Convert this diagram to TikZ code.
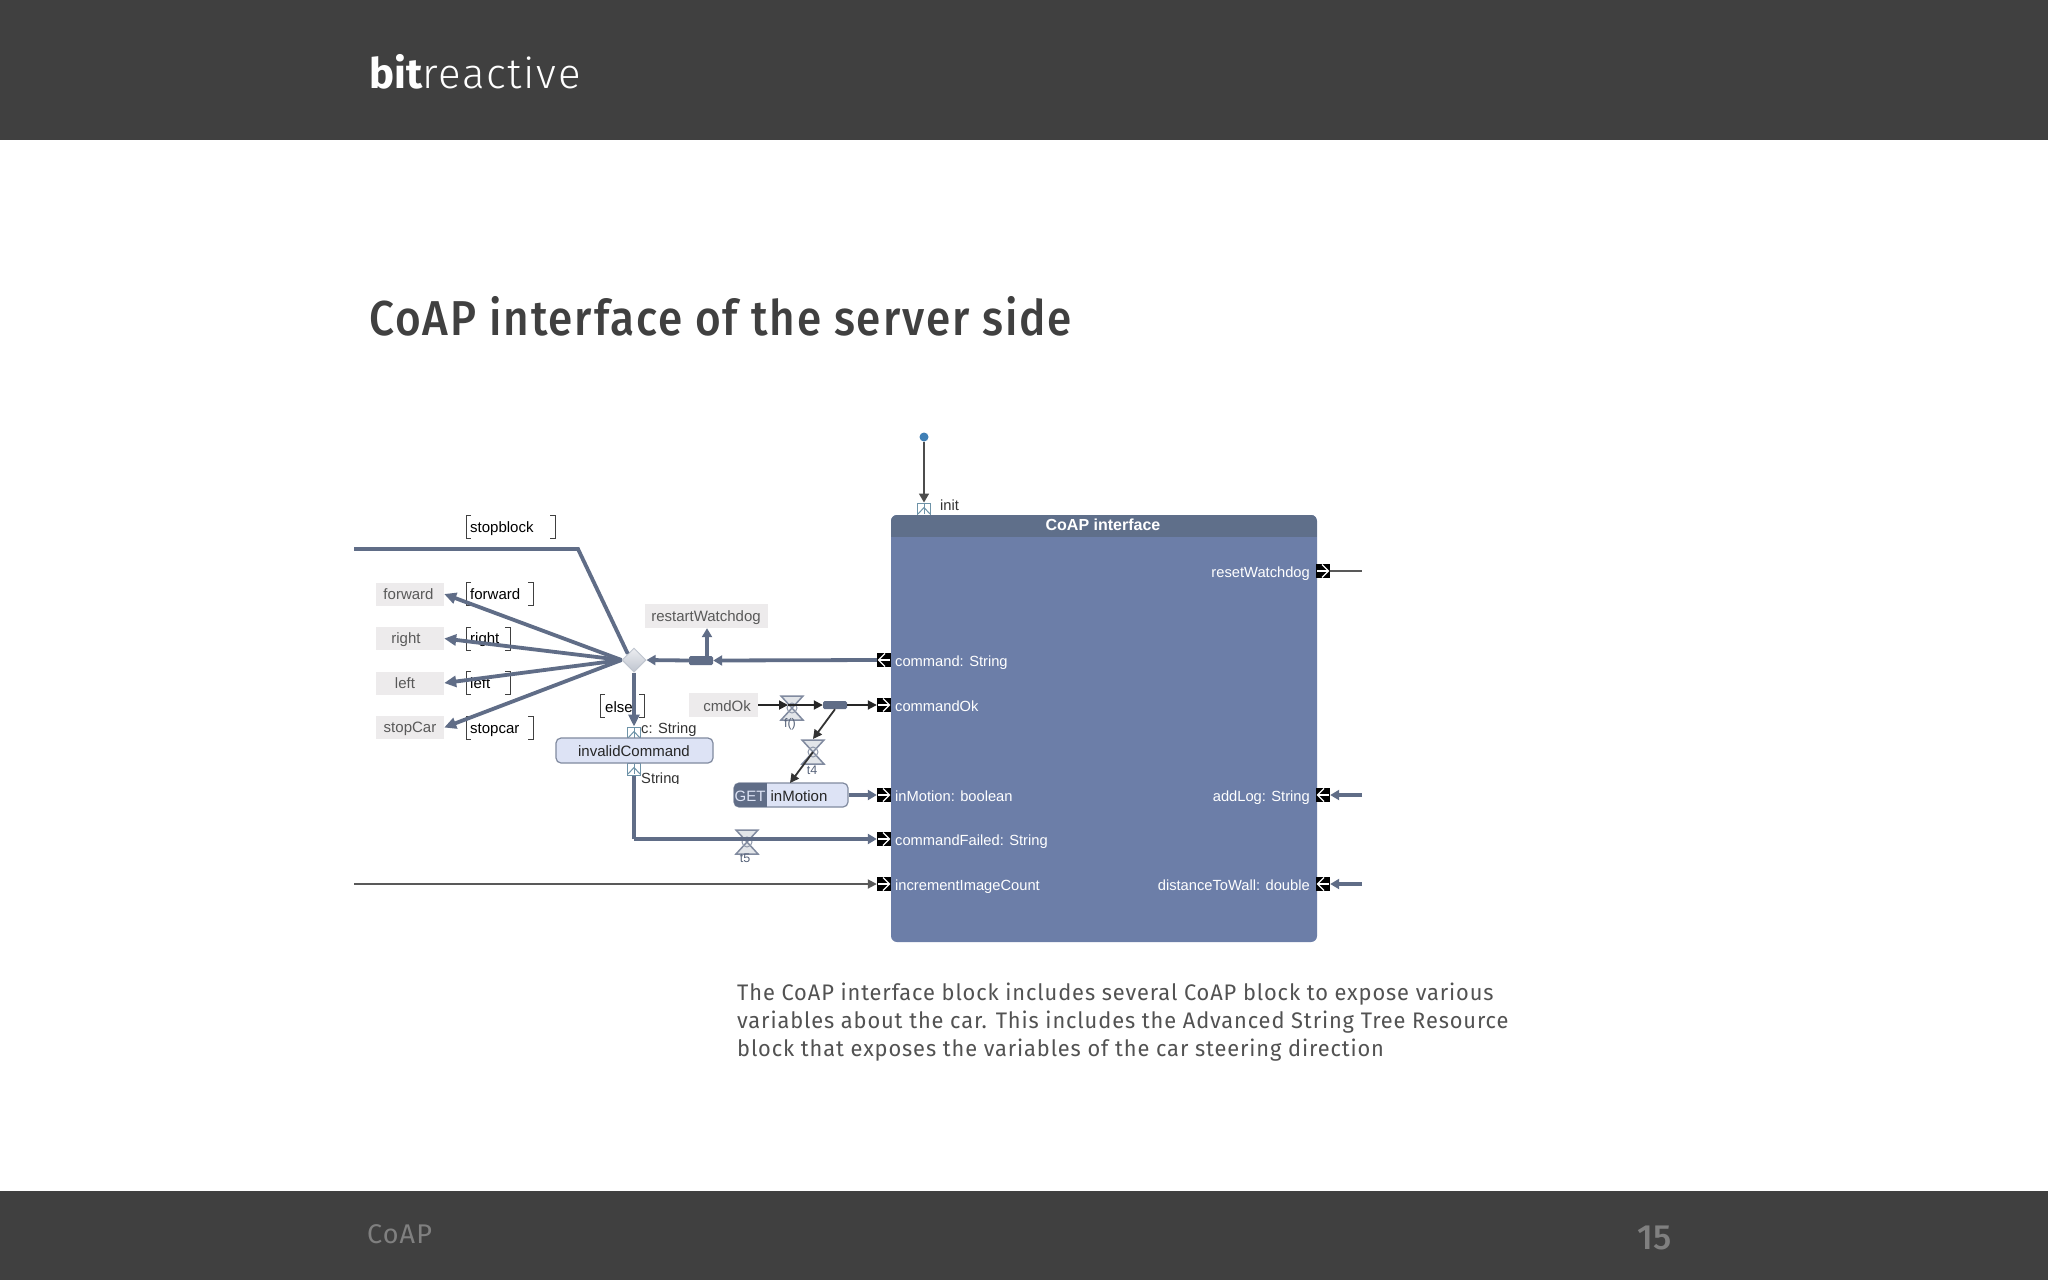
\documentclass[tikz,border=0pt]{standalone}
\usepackage{fontspec}
\setmainfont{Liberation Sans}
\newfontfamily\din{Fira Sans}
\newfontfamily\dinmed{Fira Sans Medium}
\newfontfamily\dintitle[FakeStretch=0.9,LetterSpace=3.8]{Fira Sans Medium}
\newfontfamily\dinbody[FakeStretch=0.97,LetterSpace=3.9]{Fira Sans}
\newfontfamily\dinlight{Fira Sans Light}
\usetikzlibrary{arrows.meta,shapes.geometric,calc}
\definecolor{dark}{HTML}{404040}
\definecolor{blockblue}{HTML}{6C7EA8}
\definecolor{blockhead}{HTML}{5F6F8A}
\definecolor{wire}{HTML}{606D87}
\definecolor{paleblue}{HTML}{DDE3F5}
\definecolor{grbox}{HTML}{EDEBEC}
\definecolor{pinc}{HTML}{6E93A8}
\definecolor{startdot}{HTML}{3F7FB5}
\tikzset{
  px/.style={font=\fontsize{#1}{#1}\selectfont},
  thick wire/.style={draw=wire,line width=3.8pt},
  thin wire/.style={line width=1.8pt},
  hd/.style={-{Triangle[length=12pt,width=11pt]}},
  hds/.style={-{Triangle[length=9pt,width=10pt]}},
  hdb/.style={-{Triangle[length=9pt,width=9pt]}},
  bar/.style={fill=wire,rounded corners=1.5pt,inner sep=0pt},
  grey box/.style={fill=grbox,inner sep=0pt},
  grey text/.style={inner sep=0pt,anchor=base,text=black!65,px=15},
  guard/.style={inner sep=0pt,anchor=base west,px=15,text=black},
  lab/.style={inner sep=0pt,anchor=base west,px=14.7,text=black!80},
  tl/.style={inner sep=0pt,anchor=base,px=12.5,text=wire!90!black},
  in lab/.style={inner sep=0pt,px=14.7,text=white,anchor=base west},
  out lab/.style={inner sep=0pt,px=14.7,text=white,anchor=base east},
  pin/.style={fill=black,minimum width=14pt,minimum height=14pt,inner sep=0pt},
  spin/.style={draw=pinc,fill=white,line width=1pt,minimum width=13pt,minimum height=12pt,inner sep=0pt},
  opbox/.style={draw=wire!80,fill=paleblue,rounded corners=5pt,line width=1.2pt,inner sep=0pt},
  timer/.style={draw=wire!80,fill=wire!18,line width=1.5pt},
  bodytext/.style={inner sep=0pt,anchor=base west,text=black!68,px=22.5},
}
\newcommand{\pinarrow}[2]{%
  \draw[white,line width=1.3pt] ($(#1)+(#2*-6pt,0)$) -- ($(#1)+(#2*5pt,0)$);
  \draw[white,line width=1.3pt] ($(#1)+(#2*-1pt,-6.5pt)$) -- ($(#1)+(#2*5.5pt,0)$) -- ($(#1)+(#2*-1pt,6.5pt)$);}
\newcommand{\splitpin}[1]{%
  \draw[pinc,line width=1pt] ($(#1)+(-6pt,-5pt)$) -- ($(#1)+(0,1.5pt)$) -- ($(#1)+(6pt,-5pt)$);
  \draw[pinc,line width=1pt] ($(#1)+(0,-5pt)$) -- ($(#1)+(0,5.5pt)$);}
\newcommand{\hourglass}[1]{%
  \draw[timer] ($(#1)+(-11pt,-12pt)$) -- ($(#1)+(11pt,-12pt)$) -- ($(#1)+(-11pt,12pt)$) -- ($(#1)+(11pt,12pt)$) -- cycle;
  \draw[wire!70,line width=1pt] (#1) circle (5pt);}
\newcommand{\bracket}[4]{%
  \draw[black!75,line width=1pt] (#1+5,#3) -- (#1,#3) -- (#1,#4) -- (#1+5,#4);
  \draw[black!75,line width=1pt] (#2-5,#3) -- (#2,#3) -- (#2,#4) -- (#2-5,#4);}
\begin{document}
\begin{tikzpicture}[x=1pt,y=-1pt]
\useasboundingbox (0,0) rectangle (2048,1280);
\fill[white] (0,0) rectangle (2048,1280);
\fill[dark] (0,0) rectangle (2048,140);
\fill[dark] (0,1191) rectangle (2048,1280);
% logo
\node[inner sep=0pt,anchor=base west,text=white] (logo) at (369,88) {\fontsize{42}{42}\selectfont{\din\bfseries bit}{\dinlight\addfontfeature{LetterSpace=4}reactive}};
% title
\node[inner sep=0pt,anchor=base west,text=dark] (title) at (369,335) {\dintitle\fontsize{49}{49}\selectfont CoAP interface of the server side};
% block
\node[spin] (pInit) at (924,509) {};
\splitpin{pInit}
\fill[blockblue,rounded corners=6pt] (891,515) rectangle (1317,942);
\begin{scope}
\clip[rounded corners=6pt] (891,515) rectangle (1317,942);
\fill[blockhead] (891,515) rectangle (1317,537);
\end{scope}
\node[inner sep=0pt,anchor=base,text=white,px=16] (blocktitle) at (1103,530) {\bfseries CoAP interface};
% pins
\node[pin] (pCmd) at (884,660) {};
\node[pin] (pOk) at (884,705) {};
\node[pin] (pMotion) at (884,795) {};
\node[pin] (pFail) at (884,839) {};
\node[pin] (pInc) at (884,884) {};
\node[pin] (pReset) at (1323,571) {};
\node[pin] (pLog) at (1323,795) {};
\node[pin] (pDist) at (1323,884) {};
\pinarrow{pCmd}{-1}\pinarrow{pOk}{1}\pinarrow{pMotion}{1}\pinarrow{pFail}{1}\pinarrow{pInc}{1}
\pinarrow{pReset}{1}\pinarrow{pLog}{-1}\pinarrow{pDist}{-1}
\node[in lab] (lCmd) at (895,666) {command: String};
\node[in lab] (lOk) at (895,711) {commandOk};
\node[in lab] (lMotion) at (895,801) {inMotion: boolean};
\node[in lab] (lFail) at (895,845) {commandFailed: String};
\node[in lab] (lInc) at (895,890) {incrementImageCount};
\node[out lab] (lReset) at (1310,577) {resetWatchdog};
\node[out lab] (lLog) at (1310,801) {addLog: String};
\node[out lab] (lDist) at (1310,890) {distanceToWall: double};
% init
\node[circle,fill=startdot,inner sep=0pt,minimum size=9pt] (start) at (924,437) {};
\draw[line width=1.6pt,draw=black!70,-{Triangle[length=9pt,width=10pt]}] (start) -- (pInit.north);
\node[lab] (initl) at (940,510) {init};
% decision
\node[diamond,draw=white!60!wire,top color=white!88!wire,bottom color=wire!40,minimum width=24pt,minimum height=24pt,inner sep=0pt,line width=1pt] (dec) at (634,660) {};
% grey labels
\node[grey box,minimum width=68pt,minimum height=23pt] (fw) at (410,594) {};
\node[grey text] (fwt) at (408.5,599) {forward};
\node[grey box,minimum width=68pt,minimum height=23pt] (rt) at (410,638.5) {};
\node[grey text] (rtt) at (406,643.5) {right};
\node[grey box,minimum width=68pt,minimum height=23pt] (lf) at (410,683) {};
\node[grey text] (lft) at (405,688) {left};
\node[grey box,minimum width=68pt,minimum height=23pt] (sc) at (410,727.5) {};
\node[grey text] (sct) at (410,732.5) {stopCar};
\node[grey box,minimum width=123pt,minimum height=24pt] (rw) at (706.5,616) {};
\node[grey text] (rwt) at (706,621) {restartWatchdog};
\node[grey box,minimum width=69pt,minimum height=24pt] (ok) at (723.5,705) {};
\node[grey text] (okt) at (727,711) {cmdOk};
% guards
\bracket{466}{555}{515}{538}
\node[guard] (g1) at (470,532) {stopblock};
\bracket{466}{533}{582}{605}
\bracket{466}{510}{627}{650}
\bracket{466}{510}{671}{694}
\bracket{466}{533}{716}{739}
\bracket{600}{644}{694}{717}
\node[guard] (g2) at (470,599) {forward};
\node[guard] (g3) at (470,643.5) {right};
\node[guard] (g4) at (470,688) {left};
\node[guard] (g5) at (470,733) {stopcar};
\node[guard] (g6) at (605,712) {else};
% decision wires
\coordinate (w0) at (354,549);
\coordinate (w1) at (578,549);
\draw[thick wire] (w0) -- (w1) -- (dec.north west);
\draw[thick wire,hd] (dec.west) -- (fw.east);
\draw[thick wire,hd] (dec.west) -- (rt.east);
\draw[thick wire,hd] (dec.west) -- (lf.east);
\draw[thick wire,hd] (dec.west) -- (sc.east);
% invalidCommand
\node[spin] (pi1) at (634,733) {};
\splitpin{pi1}
\node[spin] (pi2) at (634,769) {};
\splitpin{pi2}
\node[opbox,minimum width=157pt,minimum height=25pt] (inv) at (634.5,750.5) {};
\node[inner sep=0pt,anchor=base,px=15,text=black!85] (invt) at (634,756) {invalidCommand};
\draw[thick wire,hd] (dec.south) -- (pi1.north);
\node[lab] (cs) at (641,733.5) {c: String};
\begin{scope}
\clip (640,770) rectangle (690,783);
\node[lab] (st) at (641,783) {String};
\end{scope}
% command wire
\node[bar,minimum width=24pt,minimum height=9pt] (b1) at (701,660.5) {};
\coordinate (b1up) at ($(b1.north)+(6,0)$);
\draw[thick wire,hds] (pCmd.west) -- (b1.east);
\draw[thick wire,hds] (b1.west) -- (dec.east);
\draw[thick wire,hds] (b1up) -- (b1up |- rw.south);
% cmdOk
\node[bar,minimum width=24pt,minimum height=8pt] (b2) at (835,705) {};
\coordinate (t0) at (792,708);
\coordinate (t0in) at (788,705);
\hourglass{t0}
\draw[thin wire,hdb,draw=black!85] (ok.east) -- (t0in);
\draw[thin wire,hdb,draw=black!85] (t0in) -- (b2.west);
\draw[thin wire,hdb,draw=black!85] (b2.east) -- (pOk.west);
\node[tl] (t0l) at (790,727) {f()};
% t4
\coordinate (t4) at (813,752);
\node[opbox,minimum width=114pt,minimum height=24pt] (get) at (791,795) {};
\begin{scope}
\clip[rounded corners=5pt] (734,783) rectangle (848,807);
\fill[wire] (734,783) rectangle (767,807);
\end{scope}
\node[inner sep=0pt,anchor=base,text=paleblue,px=15] (gl) at (750,801) {GET};
\node[inner sep=0pt,anchor=base,text=black!85,px=15] (iml) at (799,801) {inMotion};
\coordinate (t4a) at (813,739);
\coordinate (t4b) at (790,783);
\hourglass{t4}
\draw[thin wire,hdb,draw=black!80] (b2.south) -- (t4a);
\draw[thin wire,hdb,draw=black!80] (t4) -- (t4b);
\node[tl] (t4l) at (812,774) {t4};
\draw[thick wire,hds] (get.east) -- (pMotion.west);
% commandFailed
\coordinate (corner) at (634,839);
\coordinate (t5) at (747,842);
\hourglass{t5}
\draw[thick wire] (pi2.south) -- (corner);
\draw[thick wire,hds] (corner) -- (pFail.west);
\node[tl] (t5l) at (745,862) {t5};
% increment
\coordinate (w2) at (354,884);
\draw[thin wire,draw=black!65,hdb] (w2) -- (pInc.west);
% right side
\coordinate (e1) at (1362,571);
\coordinate (e2) at (1362,795);
\coordinate (e3) at (1362,884);
\draw[thin wire,draw=black!65] (pReset.east) -- (e1);
\draw[thick wire,hds] (e2) -- (pLog.east);
\draw[thick wire,hds] (e3) -- (pDist.east);
% body text
\node[bodytext] (tx1) at (737,1000) {\dinbody The CoAP interface block includes several CoAP block to expose various};
\node[bodytext] (tx2) at (737,1028) {\dinbody variables about the car. This includes the Advanced String Tree Resource};
\node[bodytext] (tx3) at (737,1056) {\dinbody block that exposes the variables of the car steering direction};
% footer
\node[inner sep=0pt,anchor=west,text=black!50] (foot) at (367,1234) {\din\fontsize{27}{27}\selectfont\addfontfeature{LetterSpace=4}CoAP};
\node[inner sep=0pt,anchor=east,text=black!50] (page) at (1672,1238) {\dinmed\fontsize{35}{35}\selectfont\addfontfeature{LetterSpace=2}15};
\end{tikzpicture}
\end{document}
